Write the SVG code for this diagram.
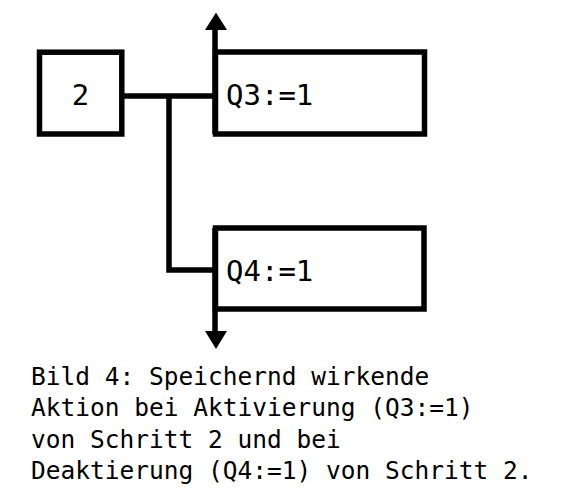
<svg xmlns="http://www.w3.org/2000/svg" width="562" height="499" viewBox="0 0 562 499">
<style>
.box{fill:#fff;stroke:#000;stroke-width:5.5}
.ln{fill:none;stroke:#000;stroke-width:5.5}
.t{font-family:"DejaVu Sans Mono","Liberation Mono",monospace;font-size:24.5px;fill:#000}
.d{font-size:29px}
</style>
<rect width="562" height="499" fill="#fff"/>
<g id="connectors">
<path class="ln" d="M122 96 H215 M169 96 V270 H215"/>
<path class="ln" d="M215 28 V134"/>
<polygon points="205,30 227,30 216,12.5"/>
<path class="ln" d="M215 228 V333"/>
<polygon points="205,331 227,331 216,349"/>
</g>
<g id="step2">
<rect class="box" x="39.5" y="52.2" width="82.3" height="81.8"/>
<text class="t d" x="80.5" y="104.5" text-anchor="middle">2</text>
</g>
<g id="action-q3">
<rect class="box" x="215.5" y="52" width="209" height="82"/>
<text class="t d" x="226" y="105">Q3:=1</text>
</g>
<g id="action-q4">
<rect class="box" x="215.5" y="228" width="208.5" height="81"/>
<text class="t d" x="226" y="281">Q4:=1</text>
</g>
<g id="caption">
<text class="t" x="31" y="385">Bild 4: Speichernd wirkende</text>
<text class="t" x="31" y="416">Aktion bei Aktivierung (Q3:=1)</text>
<text class="t" x="31" y="448">von Schritt 2 und bei</text>
<text class="t" x="31" y="479">Deaktierung (Q4:=1) von Schritt 2.</text>
</g>
</svg>
